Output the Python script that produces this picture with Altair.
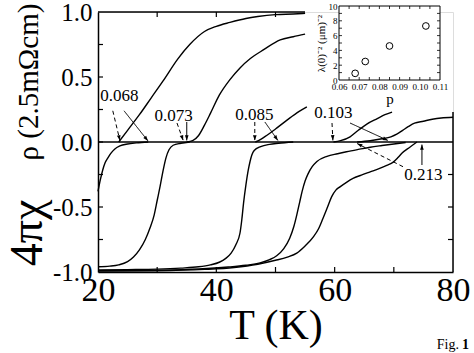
import math
import altair as alt
import pandas as pd

FONT = "Liberation Serif"
W, H = 355, 260

# ---------------- main data ----------------
rho_068_T = [23.5, 25, 27, 29, 31, 33.5, 35.5, 38, 40, 42.3, 45, 47, 50, 53, 55]
rho_068_v = [0, 0.09, 0.21, 0.34, 0.47, 0.64, 0.75, 0.85, 0.89, 0.92, 0.95, 0.965, 0.98, 0.985, 0.99]
rho_073_T = [35, 36, 37, 38, 39, 40.5, 42.3, 44, 45.7, 48, 50.8, 53, 55]
rho_073_v = [0, 0.01, 0.05, 0.13, 0.22, 0.36, 0.48, 0.57, 0.64, 0.71, 0.785, 0.81, 0.83]
rho_085_T = [46.6, 47.5, 48.5, 50, 52, 54, 55.3]
rho_085_v = [0, 0.02, 0.05, 0.1, 0.17, 0.235, 0.27]
rho_103_T = [59.8, 61, 62.6, 64, 65.5, 67.2, 68.5, 69.7]
rho_103_v = [0, 0.01, 0.04, 0.09, 0.14, 0.18, 0.21, 0.23]
rho_213_T = [63.8, 66, 68, 69.5, 70.5, 71.5, 72.5, 73.5, 75, 76.5, 78, 80]
rho_213_v = [0, 0.01, 0.025, 0.04, 0.06, 0.09, 0.12, 0.145, 0.16, 0.175, 0.185, 0.19]

chi_068_T = [20, 20.4, 20.8, 21.2, 21.7, 22.2, 22.8, 23.7, 25, 26.5, 28.5]
chi_068_v = [-0.38, -0.29, -0.215, -0.16, -0.12, -0.085, -0.055, -0.03, -0.015, -0.007, 0]
chi_073_T = [20, 22, 23.5, 25, 26, 27, 28, 28.8, 29.5, 30, 30.5, 31, 31.5, 32, 32.7, 34, 35.5]
chi_073_v = [-0.96, -0.955, -0.945, -0.92, -0.885, -0.83, -0.75, -0.66, -0.56, -0.45, -0.34,
             -0.22, -0.12, -0.06, -0.025, -0.01, 0]
chi_085_T = [20, 25, 30, 34, 37, 39, 40.5, 41.6, 42.5, 43.3, 44, 44.3, 44.6, 45, 45.4, 45.7,
             46, 46.4, 47.5, 49, 50.5, 53]
chi_085_v = [-0.985, -0.982, -0.978, -0.97, -0.96, -0.945, -0.925, -0.895, -0.855, -0.79, -0.7,
             -0.6, -0.47, -0.33, -0.215, -0.15, -0.1, -0.065, -0.035, -0.018, -0.01, 0]
chi_103_T = [20, 30, 37, 42, 45, 47.4, 49, 50.2, 51.4, 52.4, 53.1, 53.6, 54.1, 54.5, 55, 55.5,
             56.2, 57, 58.7, 60.5, 62, 64, 66, 68, 70, 72]
chi_103_v = [-0.99, -0.986, -0.977, -0.962, -0.948, -0.93, -0.905, -0.875, -0.82, -0.74, -0.65,
             -0.56, -0.46, -0.38, -0.3, -0.245, -0.19, -0.15, -0.11, -0.09, -0.075, -0.057,
             -0.04, -0.027, -0.015, -0.004]
chi_213_T = [20, 30, 38, 43, 47, 50, 52, 53.6, 55, 56.4, 57.3, 58, 58.8, 59.5, 60.2, 60.9, 62,
             63.1, 64.5, 66, 67.5, 68.8, 69.9, 70.7, 71.4, 72.7, 73.9]
chi_213_v = [-0.992, -0.99, -0.98, -0.965, -0.94, -0.91, -0.885, -0.855, -0.8, -0.73, -0.665,
             -0.59, -0.5, -0.42, -0.37, -0.345, -0.31, -0.28, -0.255, -0.23, -0.205, -0.18,
             -0.155, -0.12, -0.085, -0.04, 0]

curves = {
    "rho_068": (rho_068_T, rho_068_v), "rho_073": (rho_073_T, rho_073_v),
    "rho_085": (rho_085_T, rho_085_v), "rho_103": (rho_103_T, rho_103_v),
    "rho_213": (rho_213_T, rho_213_v),
    "chi_068": (chi_068_T, chi_068_v), "chi_073": (chi_073_T, chi_073_v),
    "chi_085": (chi_085_T, chi_085_v), "chi_103": (chi_103_T, chi_103_v),
    "chi_213": (chi_213_T, chi_213_v),
}

# annotation labels
label_text = ["0.068", "0.073", "0.085", "0.103", "0.213"]
label_T = [23.6, 32.8, 46.45, 59.8, 75.0]
label_v = [0.354, 0.2, 0.208, 0.223, -0.254]

# annotation arrows (tail -> head), dashed or solid
arrow_T1 = [22.5, 24.4, 33.35, 35.0, 46.5, 48.2, 59.55, 62.6, 71.55, 74.75]
arrow_v1 = [0.24, 0.24, 0.146, 0.154, 0.154, 0.154, 0.146, 0.146, -0.19, -0.177]
arrow_T2 = [23.7, 28.45, 34.4, 35.0, 46.5, 50.4, 59.7, 69.0, 63.8, 74.75]
arrow_v2 = [0.012, 0.008, 0.012, 0.012, 0.012, 0.012, 0.012, 0.012, -0.012, -0.02]
arrow_dash = ["d", "s", "d", "s", "d", "s", "d", "s", "d", "s"]

# axis ticks
x_label_values = [20, 40, 60, 80]
y_label_values = [-1.0, -0.5, 0.0, 0.5, 1.0]
x_ticks_bottom = [30, 40, 50, 60, 70]
x_ticks_top = [30, 40, 50]
y_ticks_left = [-0.75, -0.5, -0.25, 0, 0.25, 0.5, 0.75]
y_ticks_right = [-0.75, -0.5, -0.25]

# inset data
inset_p = [0.068, 0.073, 0.085, 0.103]
inset_lam = [0.9, 2.5, 4.6, 7.3]
inset_x_values = [0.06, 0.07, 0.08, 0.09, 0.10, 0.11]
inset_y_values = [0, 2, 4, 6, 8, 10]
inset_x_ticks = [0.065, 0.07, 0.075, 0.08, 0.085, 0.09, 0.095, 0.10, 0.105]
inset_y_ticks = [1, 2, 3, 4, 5, 6, 7, 8, 9]

# ---------------- tables ----------------
rows = []
for name, (ts, vs) in curves.items():
    for i, (t, v) in enumerate(zip(ts, vs)):
        rows.append({"series": name, "T": t, "v": v, "i": i})
curve_df = pd.DataFrame(rows)
label_df = pd.DataFrame({"label": label_text, "T": label_T, "v": label_v})

sx = W / 60.0
sy = H / 2.0
angles = []
for t1, v1, t2, v2 in zip(arrow_T1, arrow_v1, arrow_T2, arrow_v2):
    dx = (t2 - t1) * sx
    dy = -(v2 - v1) * sy
    angles.append(math.degrees(math.atan2(dx, -dy)) % 360)
arrow_df = pd.DataFrame({"T": arrow_T1, "v": arrow_v1, "T2": arrow_T2, "v2": arrow_v2,
                         "dash": arrow_dash, "ang": angles})

xs = alt.Scale(domain=[20, 80], nice=False, zero=False)
ys = alt.Scale(domain=[-1, 1], nice=False, zero=False)

x_enc = alt.X("T:Q", scale=xs,
              axis=alt.Axis(values=x_label_values, tickSize=0, grid=False, domain=True,
                            domainColor="black", domainWidth=1.5, labelFlush=False,
                            labelFont=FONT, labelFontSize=34, labelColor="black",
                            labelBaseline="alphabetic", labelPadding=28,
                            title="T (K)", titleFont=FONT, titleFontSize=42,
                            titleFontWeight="normal", titleColor="black",
                            titleBaseline="alphabetic", titleY=66))
y_enc = alt.Y("v:Q", scale=ys,
              axis=alt.Axis(values=y_label_values, tickSize=0, grid=False, domain=True,
                            domainColor="black", domainWidth=1.5, labelFlush=False,
                            labelExpr="replace(format(datum.value, '.1f'), '\u2212', '-')",
                            labelFont=FONT, labelFontSize=25, labelColor="black",
                            labelPadding=6, title=None))

lines = alt.Chart(curve_df).mark_line(color="black", strokeWidth=1.4, interpolate="monotone").encode(
    x=x_enc, y=y_enc, detail="series:N", order="i:Q")

zero_line = alt.Chart(pd.DataFrame({"v": [0.0]})).mark_rule(color="black", strokeWidth=1.5).encode(
    y=alt.Y("v:Q", scale=ys), x=alt.value(0), x2=alt.value(W))

arrow_lines = alt.Chart(arrow_df).mark_rule(color="black", strokeWidth=1).encode(
    x=alt.X("T:Q", scale=xs), y=alt.Y("v:Q", scale=ys), x2="T2:Q", y2="v2:Q",
    strokeDash=alt.StrokeDash("dash:N", scale=alt.Scale(domain=["d", "s"], range=[[4, 3], [1, 0]]),
                              legend=None))

arrow_heads = alt.Chart(arrow_df).mark_point(
    shape="M0,0 L-0.35,1 L0.35,1 Z", filled=True, color="black", size=110, opacity=1
).encode(x=alt.X("T2:Q", scale=xs), y=alt.Y("v2:Q", scale=ys), angle=alt.Angle("ang:Q", scale=None))

labels = alt.Chart(label_df).mark_text(font=FONT, fontSize=17, color="black").encode(
    x=alt.X("T:Q", scale=xs), y=alt.Y("v:Q", scale=ys), text="label:N")

def xtick(vals, y1, y2):
    return alt.Chart(pd.DataFrame({"T": vals})).mark_rule(color="black", strokeWidth=1.2).encode(
        x=alt.X("T:Q", scale=xs), y=alt.value(y1), y2=alt.value(y2))

def ytick(vals, x1, x2):
    return alt.Chart(pd.DataFrame({"v": vals})).mark_rule(color="black", strokeWidth=1.2).encode(
        y=alt.Y("v:Q", scale=ys), x=alt.value(x1), x2=alt.value(x2))

ticks = [xtick(x_ticks_bottom, H, H - 5), xtick(x_ticks_top, 0, 5),
         ytick(y_ticks_left, 0, 5), ytick(y_ticks_right, W, W - 5)]

one = pd.DataFrame({"t": ["x"]})
top_border = alt.Chart(one).mark_rule(color="black", strokeWidth=1.5).encode(
    x=alt.value(0), x2=alt.value(207), y=alt.value(0))
right_border = alt.Chart(one).mark_rule(color="black", strokeWidth=1.5).encode(
    x=alt.value(W), y=alt.value(100), y2=alt.value(H))

title_big = alt.Chart(pd.DataFrame({"t": ["4\u03c0\u03c7"]})).mark_text(
    font=FONT, fontSize=46, angle=270, color="black", align="center", baseline="alphabetic"
).encode(text="t:N", x=alt.value(-56), y=alt.value(221))
title_small = alt.Chart(pd.DataFrame({"t": ["\u03c1 (2.5m\u03a9cm)"]})).mark_text(
    font=FONT, fontSize=29, angle=270, color="black", align="center", baseline="alphabetic"
).encode(text="t:N", x=alt.value(-60), y=alt.value(70))
fig_a = alt.Chart(pd.DataFrame({"t": ["Fig."]})).mark_text(
    font=FONT, fontSize=14, color="black", align="right", baseline="alphabetic"
).encode(text="t:N", x=alt.value(361), y=alt.value(337))
fig_b = alt.Chart(pd.DataFrame({"t": ["1"]})).mark_text(
    font=FONT, fontSize=14, fontWeight="bold", color="black", align="left", baseline="alphabetic"
).encode(text="t:N", x=alt.value(364), y=alt.value(337))

main = alt.layer(lines, zero_line, arrow_lines, arrow_heads, labels, *ticks,
                 top_border, right_border, title_big, title_small, fig_a, fig_b)

# ---------------- inset ----------------
IX0, IX1, IY0, IY1 = 241, 342, -6, 68
ixs = alt.Scale(domain=[0.06, 0.11], range=[IX0, IX1], nice=False, zero=False)
iys = alt.Scale(domain=[0, 10], range=[IY1, IY0], nice=False, zero=False)
inset_df = pd.DataFrame({"p": inset_p, "lam": inset_lam})

inset_bg = alt.Chart(one).mark_rect(fill="white", stroke="black", strokeWidth=1).encode(
    x=alt.value(IX0), x2=alt.value(IX1), y=alt.value(IY0), y2=alt.value(IY1))

inset_pts = alt.Chart(inset_df).mark_point(shape="circle", filled=False, color="black",
                                           size=45, strokeWidth=1, opacity=1).encode(
    x=alt.X("p:Q", scale=ixs,
            axis=alt.Axis(orient="bottom", offset=IY1 - H, values=inset_x_values, format=".2f",
                          tickSize=0, domain=False, grid=False, labelFont=FONT, labelFontSize=9,
                          labelColor="black", labelPadding=2, labelFlush=False,
                          title="p", titleFont=FONT,
                          titleFontSize=15, titleFontWeight="normal", titleColor="black",
                          titlePadding=0, zindex=2)),
    y=alt.Y("lam:Q", scale=iys,
            axis=alt.Axis(orient="left", offset=-IX0, values=inset_y_values, format="d",
                          tickSize=0, domain=False, grid=False, labelFont=FONT, labelFontSize=9,
                          labelColor="black", labelPadding=2, labelFlush=False,
                          title="\u03bb(0)\u207b\u00b2 (\u03bcm)\u207b\u00b2", titleFont=FONT,
                          titleFontSize=11, titleFontWeight="normal", titleColor="black",
                          titlePadding=2, zindex=2)))

ixt_df = pd.DataFrame({"p": inset_x_ticks})
iyt_df = pd.DataFrame({"lam": inset_y_ticks})
inset_ticks = [
    alt.Chart(ixt_df).mark_rule(color="black", strokeWidth=0.8).encode(
        x=alt.X("p:Q", scale=ixs), y=alt.value(IY1), y2=alt.value(IY1 - 3)),
    alt.Chart(ixt_df).mark_rule(color="black", strokeWidth=0.8).encode(
        x=alt.X("p:Q", scale=ixs), y=alt.value(IY0), y2=alt.value(IY0 + 3)),
    alt.Chart(iyt_df).mark_rule(color="black", strokeWidth=0.8).encode(
        y=alt.Y("lam:Q", scale=iys), x=alt.value(IX0), x2=alt.value(IX0 + 3)),
    alt.Chart(iyt_df).mark_rule(color="black", strokeWidth=0.8).encode(
        y=alt.Y("lam:Q", scale=iys), x=alt.value(IX1), x2=alt.value(IX1 - 3)),
]

inset = alt.layer(inset_bg, inset_pts, *inset_ticks)

chart = alt.layer(main, inset).resolve_scale(x="independent", y="independent").properties(
    width=W, height=H,
    padding={"left": 98, "top": 12, "right": 21, "bottom": 81},
    autosize=alt.AutoSizeParams(type="none"),
).configure_view(stroke=None).configure(background="white")

chart.save("out.html", embed_options={"renderer": "svg", "actions": False})
